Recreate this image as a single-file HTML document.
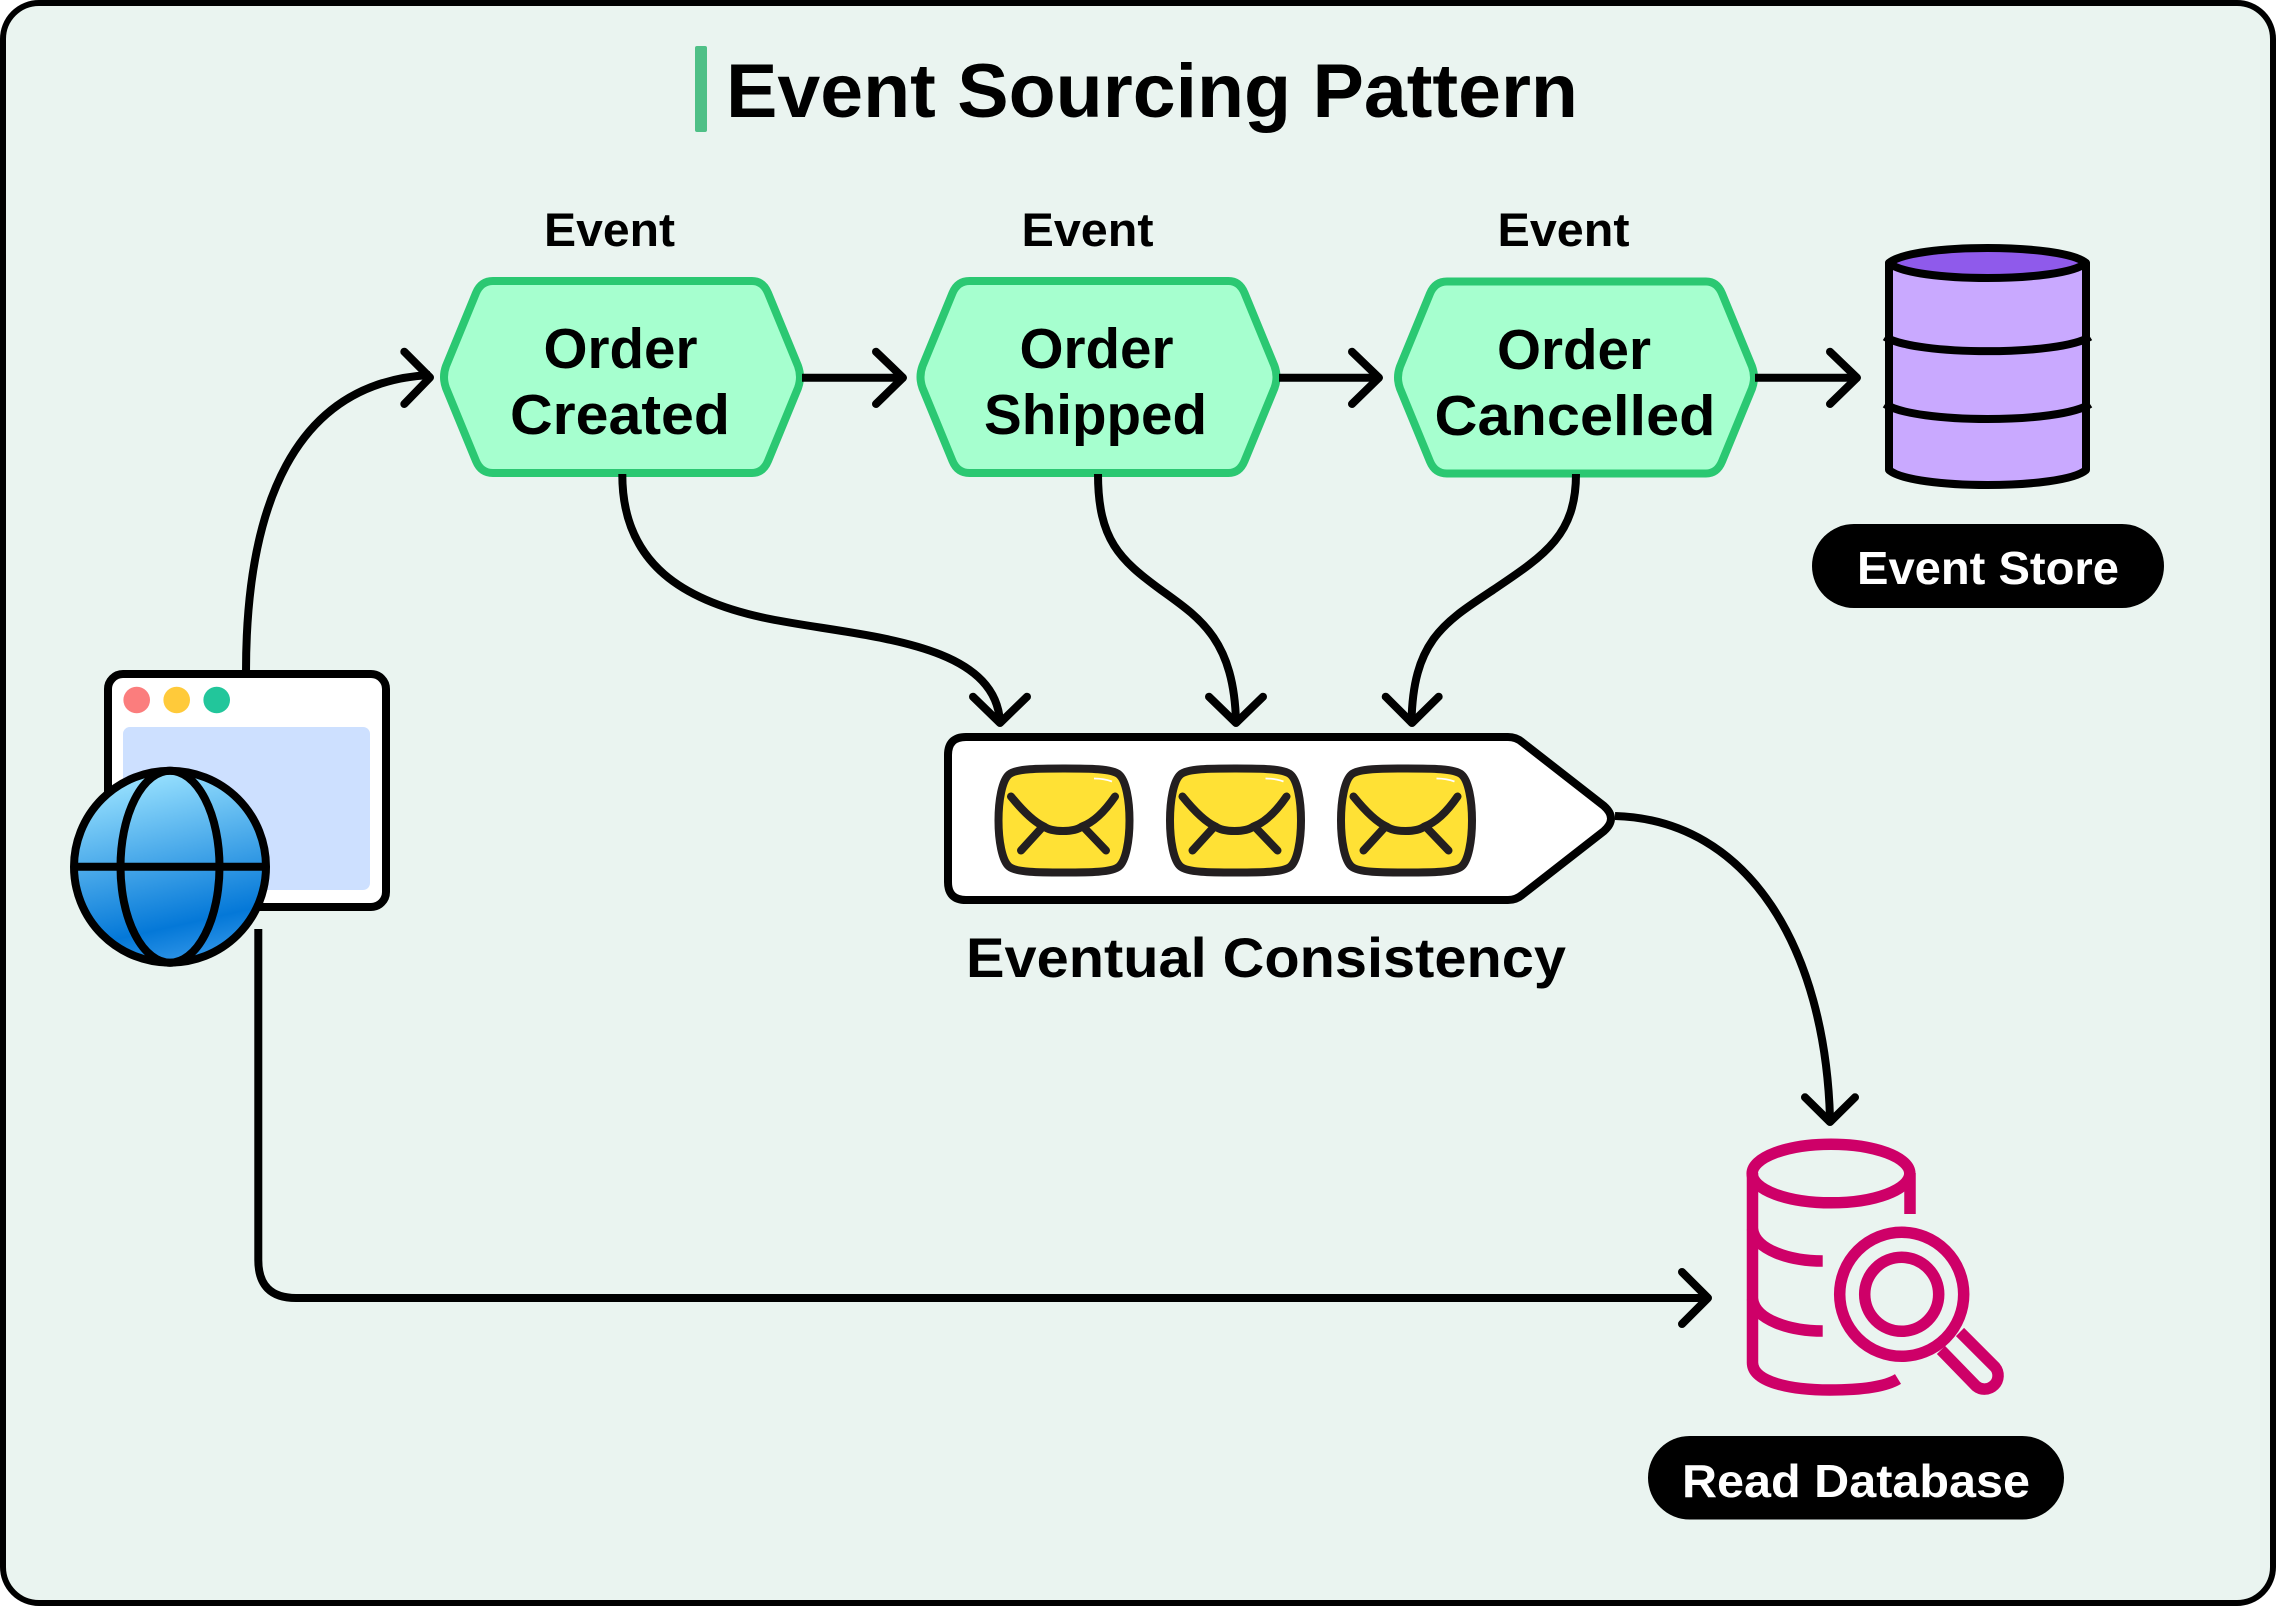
<!DOCTYPE html>
<html>
<head>
<meta charset="utf-8">
<title>Event Sourcing Pattern</title>
<style>
html,body{margin:0;padding:0;background:#fff;width:2276px;height:1606px;overflow:hidden}
svg{display:block}
text{font-family:"Liberation Sans",sans-serif;font-weight:700;fill:#000}
.c{fill:none;stroke:#000;stroke-width:8}
.a{fill:none;stroke:#000;stroke-width:8;stroke-linecap:round;stroke-linejoin:round}
.hx{fill:#A6FFCF;stroke:#2BC872;stroke-width:8}
.mg{fill:none;stroke:#CE0068;stroke-width:11.5}
</style>
</head>
<body>
<svg xmlns="http://www.w3.org/2000/svg" width="2276" height="1606" viewBox="0 0 2276 1606">
<defs>
<linearGradient id="g" gradientUnits="userSpaceOnUse" x1="150" y1="770" x2="195" y2="970">
<stop offset="0" stop-color="#9BE3FF"/>
<stop offset="0.77" stop-color="#0478D8"/>
<stop offset="1" stop-color="#3B9CEB"/>
</linearGradient>
<path id="hex" d="M446,366 L476,293 Q481,281 493,281 L752,281 Q763,281 768,293 L798,366 Q802,377 798,388 L768,461 Q763,473 752,473 L493,473 Q481,473 476,461 L446,388 Q442,377 446,366 Z"/>
<g id="env">
<path d="M0,-52 C25,-52 48,-52 55,-46 C62,-40 65.5,-20 65.5,0 C65.5,20 62,40 55,46 C48,52 25,52 0,52 C-25,52 -48,52 -55,46 C-62,40 -65.5,20 -65.5,0 C-65.5,-20 -62,-40 -55,-46 C-48,-52 -25,-52 0,-52 Z" fill="#FFE135" stroke="#231F20" stroke-width="8"/>
<path d="M-53,-24 C-40,-8 -29,2 -20,6 C-12,12 10,12 18,6 C29,2 40,-8 51,-24 M-22,7 L-43,30 M20,7 L42,30" fill="none" stroke="#231F20" stroke-width="8" stroke-linecap="round"/>
<path d="M30,-42 Q40,-42 48,-39" fill="none" stroke="#fff" stroke-width="1.8"/>
</g>
</defs>

<rect x="3" y="3" width="2270" height="1600" rx="36" ry="36" fill="#EAF4F0" stroke="#000" stroke-width="6"/>

<!-- title -->
<rect x="695" y="46" width="12" height="86" rx="2" fill="#4FC087"/>
<text x="726" y="117" font-size="76" textLength="852" lengthAdjust="spacingAndGlyphs">Event Sourcing Pattern</text>

<!-- connectors from browser -->
<path class="c" d="M246,672 C246,510 292,382 430,375"/>
<path class="a" d="M404.3,351.7 L430,377.5 L404.3,404"/>
<path class="c" d="M258.3,929 V1260 Q258.3,1298 296,1298 H1706"/>
<path class="a" d="M1682,1272 L1708,1298 L1682,1324"/>

<!-- hexagons -->
<use href="#hex" class="hx"/>
<use href="#hex" class="hx" transform="translate(476.5,0)"/>
<use href="#hex" class="hx" transform="translate(954,0.5)"/>

<text x="544" y="246" font-size="47" textLength="131" lengthAdjust="spacingAndGlyphs">Event</text>
<text x="1021.5" y="246" font-size="47" textLength="132" lengthAdjust="spacingAndGlyphs">Event</text>
<text x="1497.5" y="246" font-size="47" textLength="132" lengthAdjust="spacingAndGlyphs">Event</text>

<text x="543.5" y="368" font-size="57" textLength="154" lengthAdjust="spacingAndGlyphs">Order</text>
<text x="510" y="434" font-size="57" textLength="220" lengthAdjust="spacingAndGlyphs">Created</text>
<text x="1019.5" y="368" font-size="57" textLength="154" lengthAdjust="spacingAndGlyphs">Order</text>
<text x="984" y="434" font-size="57" textLength="223" lengthAdjust="spacingAndGlyphs">Shipped</text>
<text x="1497" y="369" font-size="57" textLength="154" lengthAdjust="spacingAndGlyphs">Order</text>
<text x="1434.5" y="435" font-size="57" textLength="281" lengthAdjust="spacingAndGlyphs">Cancelled</text>

<!-- horizontal arrows -->
<path class="c" d="M802,377.7 H902"/>
<path class="a" d="M876,351.7 L903,377.7 L876,404"/>
<path class="c" d="M1279,377.7 H1379"/>
<path class="a" d="M1352,351.7 L1379,377.7 L1352,404"/>
<path class="c" d="M1755,377.7 H1855"/>
<path class="a" d="M1830,351.7 L1857,377.7 L1830,404"/>

<!-- curves to queue -->
<path class="c" d="M622.3,474 C622,565 685,602 770,619 C860,637 995,640 1000,722"/>
<path class="a" d="M973,696.7 L1000,723 L1027,696.7"/>
<path class="c" d="M1098,474 C1098,540 1120,560 1161,590 C1200,618 1234,640 1236,722"/>
<path class="a" d="M1209,696.7 L1236,723 L1263,696.7"/>
<path class="c" d="M1576,474 C1576,535 1545,555 1493,590 C1445,622 1413,640 1411.5,722"/>
<path class="a" d="M1385.7,696.7 L1412,723 L1438.7,696.7"/>

<!-- queue -->
<path d="M966,737 L1508,737 Q1516,737 1522,742 L1604,806 Q1618,818.5 1604,831 L1522,895 Q1516,900 1508,900 L966,900 Q948,900 948,882 L948,755 Q948,737 966,737 Z" fill="#fff" stroke="#000" stroke-width="8"/>
<use href="#env" transform="translate(1064,820.5)"/>
<use href="#env" transform="translate(1235.5,820.5)"/>
<use href="#env" transform="translate(1406.5,820.5)"/>
<text x="966" y="977" font-size="56" textLength="600" lengthAdjust="spacingAndGlyphs">Eventual Consistency</text>

<!-- curve to read db -->
<path class="c" d="M1615,816 C1750,820 1825,950 1830,1118"/>
<path class="a" d="M1805,1097.3 L1830,1122 L1855,1097.3"/>

<!-- event store -->
<path d="M1889,263 V470 C1912,490 2063,490 2086,470 V263 Z" fill="#C9A9FF" stroke="#000" stroke-width="8" stroke-linejoin="round"/>
<path d="M1889,263 C1912,243 2063,243 2086,263 C2063,283 1912,283 1889,263 Z" fill="#8F5AEB" stroke="#000" stroke-width="8" stroke-linejoin="round"/>
<path d="M1885,336.7 C1915,356 2060,356 2090,336.7" fill="none" stroke="#000" stroke-width="8"/>
<path d="M1885,404 C1915,424 2060,424 2090,404" fill="none" stroke="#000" stroke-width="8"/>
<rect x="1812" y="524" width="352" height="84" rx="42" fill="#000"/>
<text x="1857" y="584" font-size="46" textLength="262" lengthAdjust="spacingAndGlyphs" style="fill:#fff">Event Store</text>

<!-- read db -->
<ellipse cx="1831" cy="1173.5" rx="78.8" ry="29.3" class="mg"/>
<path class="mg" d="M1910,1173 V1214"/>
<path class="mg" d="M1752.5,1173 V1362 C1752,1382 1790,1390 1830,1390 C1860,1390 1885,1387 1898,1379"/>
<path class="mg" d="M1752.5,1229 C1755,1250 1790,1261 1822.7,1261"/>
<path class="mg" d="M1752.5,1299 C1755,1320 1790,1331 1822.7,1331"/>
<circle cx="1901.7" cy="1294.3" r="62" class="mg"/>
<circle cx="1901.7" cy="1294.3" r="37" class="mg"/>
<path class="mg" d="M1941,1350 L1976,1386 A13.5,13.5 0 0 0 1995,1367 L1960,1332"/>
<rect x="1648" y="1436" width="416" height="83.5" rx="41.7" fill="#000"/>
<text x="1682" y="1497" font-size="46" textLength="348" lengthAdjust="spacingAndGlyphs" style="fill:#fff">Read Database</text>

<!-- browser -->
<rect x="108" y="674" width="278" height="233" rx="15" fill="#fff" stroke="#000" stroke-width="8"/>
<circle cx="136.7" cy="700" r="13.3" fill="#FB7D7D"/>
<circle cx="176.7" cy="700" r="13.3" fill="#FFCA3A"/>
<circle cx="216.7" cy="700" r="13.3" fill="#22C69B"/>
<rect x="123" y="727" width="247" height="163" rx="7" fill="#CDE0FF"/>
<circle cx="170" cy="866.7" r="96" fill="url(#g)" stroke="#000" stroke-width="8"/>
<ellipse cx="170" cy="866.7" rx="49.5" ry="96" fill="none" stroke="#000" stroke-width="8"/>
<path d="M72,866.7 H268" fill="none" stroke="#000" stroke-width="8"/>
</svg>
</body>
</html>
